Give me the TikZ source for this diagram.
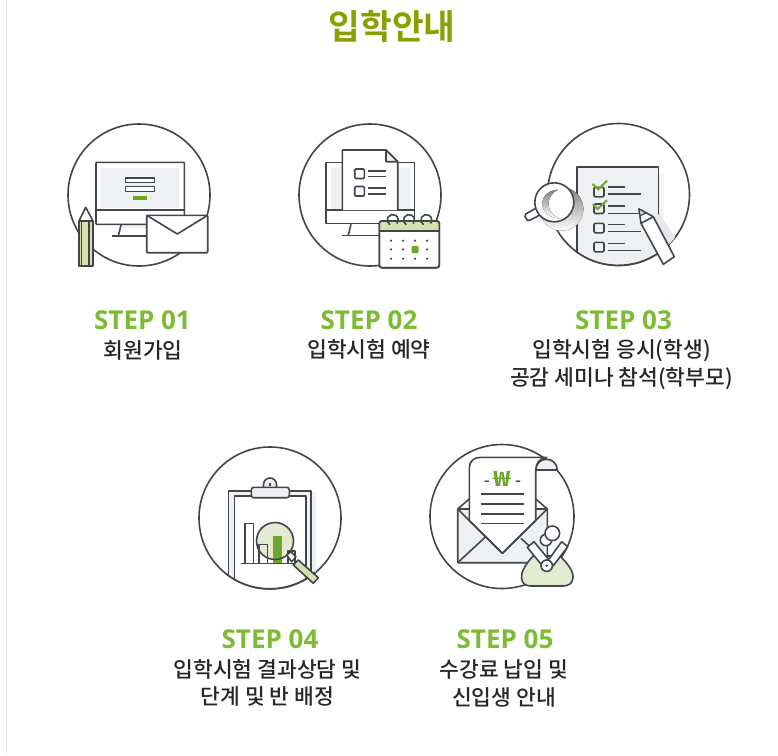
\documentclass[tikz,border=0pt]{standalone}
\usepackage{fontspec}
\setmainfont{Noto Sans CJK KR Medium}
\newfontfamily\titlefont{Noto Sans CJK KR Bold}
\newfontfamily\stepfont{Open Sans}[BoldFont={Open Sans Bold}]
\definecolor{ink}{HTML}{41464D}
\definecolor{leaf}{HTML}{6FA52A}
\definecolor{steptext}{HTML}{7CBB34}
\definecolor{headtext}{HTML}{8A9F00}
\definecolor{pale}{HTML}{E2EAD0}
\definecolor{stripe}{HTML}{D3E1AE}
\definecolor{mist}{HTML}{EFF0F2}
\definecolor{shade}{HTML}{D5D6D9}
\tikzset{
	ring/.style={circle,draw=ink,line width=1.6,minimum size=142,inner sep=0},
	ink line/.style={draw=ink,line width=1.6,line join=round},
	thin ink/.style={draw=ink,line width=1.2},
	head/.style={font=\titlefont\fontsize{34.5}{34.5}\selectfont,text=headtext},
	steplabel/.style={font=\stepfont\bfseries\fontsize{26}{26}\selectfont,text=steptext},
	desc/.style={font=\fontsize{21.5}{27.5}\selectfont,text=black!85,align=center}
}
\begin{document}
\begin{tikzpicture}[x=1pt,y=-1pt]
\useasboundingbox (0,0) rectangle (778,755);
\draw[black!8,line width=1] (6,0) -- (6,755);
\node[head] (title) at (392,26) {입학안내};

\node[ring] (ringone) at (139,195) {};
\fill[white] (96,162) rectangle (184,224);
\fill[mist] (101,167.5) rectangle (179,207.7);
\fill[mist] (122,225) rectangle (147,228);
\draw[ink line,rounded corners=0.8] (96,162.3) rectangle (184.3,224.3);
\draw[ink line] (96,210) -- (184.3,210);
\draw[ink line] (121,225) -- (118.3,236);
\draw[ink line] (112,236) -- (147,236);
\draw[ink line,fill=white] (125.3,177.7) rectangle (154.3,182.3);
\draw[ink line,fill=white] (125.3,186.5) rectangle (154.3,191.5);
\fill[leaf] (133.3,196.3) rectangle (146.7,200);
\draw[ink line,fill=white,rounded corners=0.8] (146.7,215.3) rectangle (207.7,252.7);
\draw[ink line] (146.7,215.3) -- (177.3,234) -- (207.7,215.3);
\draw[ink line,fill=white] (79,266) -- (79,221) -- (85.7,207.3) -- (93,221) -- (93,266) -- cycle;
\fill[stripe] (79.7,222) rectangle (92.3,265.3);
\draw[ink line] (79,221) -- (93,221);
\draw[thin ink] (89,221) -- (89,266);
\draw[thin ink] (81.5,221) -- (81.5,266);

\node[ring] (ringtwo) at (370,195) {};
\draw[ink line,fill=white] (326,162.3) rectangle (414.3,223.3);
\fill[mist] (331,167.3) rectangle (342.3,209) (397.7,167.3) rectangle (410,209);
\draw[ink line] (326,210) -- (414.3,210);
\draw[ink line] (351,224.3) -- (348.3,235.3);
\draw[ink line] (342.3,235.3) -- (380,235.3);
\draw[ink line,fill=white] (342.3,210) -- (342.3,150) -- (386,150) -- (397.7,161.7) -- (397.7,210);
\draw[ink line,fill=mist] (386,150) -- (386,161.7) -- (397.7,161.7) -- cycle;
\foreach \rowy in {169,186.5} {
	\draw[ink line,fill=white,rounded corners=1] (354.7,\rowy) rectangle (364.3,\rowy+9.5);
	\draw[ink line] (368.3,\rowy+1.7) -- (386,\rowy+1.7) (368.3,\rowy+7.5) -- (386,\rowy+7.5);
}
\draw[ink line,fill=white,rounded corners=2.5] (379.3,221) rectangle (439.3,267.7);
\fill[stripe,rounded corners=2] (380,221.7) rectangle (438.6,230.7);
\draw[ink line,rounded corners=2.5] (379.3,221) rectangle (439.3,267.7);
\draw[ink line] (379.3,230.7) -- (439.3,230.7);
\foreach \ringx in {392.7,409,426.3} {
	\draw[ink line] (\ringx-2.75,224.8) arc[start angle=120,end angle=400,radius=5.5];
}
\foreach \dotx in {391,403,415,427} {
	\foreach \doty in {240.7,249.3,258.7} {
		\fill[ink] (\dotx,\doty) circle[radius=1.2];
	}
}
\fill[leaf,rounded corners=0.8] (411.5,246) rectangle (418.5,253);

\node[ring] (ringthree) at (618.5,194.5) {};
\begin{scope}
	\clip (618.5,194.5) circle[radius=71];
	\fill[mist!70!white] (658,173) rectangle (664,270);
	\fill[mist] (576.7,167) rectangle (658.3,270);
	\draw[ink line] (576.7,270) -- (576.7,167) -- (658.3,167) -- (658.3,270);
	\fill[shade!60!white] (653.3,216.7) -- (660,214) -- (690,262) -- (674,258) -- cycle;
\end{scope}
\draw[ink line] (618.5,194.5) ++(-42,57.3) arc[start angle=126,end angle=48,radius=71];
\foreach \rowy/\topy in {187.3/186.7,204/206,223.3/224.3,242.3/243.3} {
	\draw[ink line,rounded corners=1.2] (594,\rowy) rectangle (604,\rowy+9.5);
	\draw[ink line] (608.3,\topy) -- (625,\topy) (608.3,\topy+7.3) -- (641,\topy+7.3);
}
\draw[leaf,line width=2] (592.7,184) -- (598.3,189.3) -- (607,180.7);
\draw[leaf,line width=2] (592.7,204.3) -- (597.7,209) -- (607,200);
\fill[shade] (561.7,209) circle[radius=21.7];
\draw[ink line,fill=white] (535,208.7) -- (525.7,214) -- (525,216.7) -- (527.7,220.7) -- (530.3,220) -- (539.3,215.3);
\draw[ink line,fill=white] (554.3,202.3) circle[radius=19.5];
\fill[shade] (558,189.5) .. controls (536,192) and (537,217) .. (560,218.5) .. controls (546,214) and (544,197) .. (558,189.5);
\draw[ink line,fill=white] (639,209) -- (653.3,216.7) -- (674.3,256.7) -- (663.3,264.3) -- (641,223.3) -- cycle;
\draw[thin ink,fill=shade] (639,209) -- (646,212.7) -- (640,216) -- cycle;
\draw[ink line] (641,223.3) -- (653.3,216.7);

\node[ring] (ringfour) at (270,518) {};
\begin{scope}
	\clip (270,518) circle[radius=71];
	\fill[mist] (311,492) rectangle (316,590);
	\fill[mist] (228.3,490.7) rectangle (311,590);
	\fill[white] (234.3,495.7) rectangle (305.7,590);
	\draw[ink line] (228.3,590) -- (228.3,490.7) -- (311,490.7) -- (311,590);
	\draw[ink line] (234.3,590) -- (234.3,495.7) -- (305.7,495.7) -- (305.7,590);
\end{scope}
\draw[ink line] (270,518) ++(-44,55.7) arc[start angle=128,end angle=50,radius=71];
\draw[ink line,fill=mist] (263.5,488) -- (263.5,484.5) arc[start angle=180,end angle=360,radius=6.5] -- (276.5,488) -- cycle;
\draw[ink line,fill=mist,rounded corners=2.5] (251.3,487.3) rectangle (289.3,497.7);
\fill[ink] (269.3,482.7) rectangle (270.7,486);
\fill[pale] (275,541) circle[radius=18.5];
\draw[ink line] (245,563.3) -- (245,523.3) -- (253.3,523.3) -- (253.3,563.3);
\draw[ink line] (259,563.3) -- (259,544.3) -- (267.3,544.3) -- (267.3,563.3);
\fill[leaf] (273.3,536) rectangle (281.7,563.3);
\draw[ink line] (287.7,563.3) -- (287.7,550.7) -- (295,550.7) -- (295,563.3);
\draw[ink line] (240.7,563.3) -- (295,563.3);
\draw[ink line] (275,541) circle[radius=18.5];
\draw[ink line,fill=stripe] (298.3,560) -- (318.3,577.7) -- (313.3,583.3) -- (293.3,565) -- cycle;
\draw[ink line,fill=white] (286.7,555) -- (291,551.7) -- (296,556.7) -- (291.7,561.7) -- cycle;

\node[ring,minimum size=144] (ringfive) at (502,516.5) {};
\draw[ink line,fill=white] (457.7,509) -- (470,498.3) -- (535,498.3) -- (547.3,509) -- cycle;
\draw[ink line,fill=mist,rounded corners=0.8] (457.7,509) rectangle (547.3,562.7);
\draw[ink line,fill=mist] (535.7,470) arc[start angle=180,end angle=360,radius=10.8] -- cycle;
\draw[ink line,fill=white] (469.3,520.7) -- (469.3,468) .. controls (469.3,461) and (474,457.3) .. (481,457.3) -- (546.7,457.3) .. controls (540,458) and (535.7,463) .. (535.7,470) -- (535.7,520.7) -- (502.3,553.3) -- cycle;
\draw[ink line] (457.7,509) -- (502.3,553.3) -- (547.3,509);
\draw[ink line] (457.7,562.7) -- (485.7,536.7);
\draw[ink line] (547.3,562.7) -- (521,538.3);
\node[font=\fontsize{17}{17}\selectfont,text=ink] (wontag) at (502.5,478.5) {-\ {\color{leaf}\titlefont\fontsize{21}{21}\selectfont\scalebox{1.4}[1]{₩}}\ -};
\foreach \rowy in {494,504,514,523.3} {
	\draw[ink line] (480.7,\rowy) -- (524.3,\rowy);
}
\draw[ink line,fill=white] (546,540) circle[radius=5.7];
\draw[ink line,fill=white] (552.3,533.3) circle[radius=7.3];
\draw[ink line,fill=pale] (533,556) .. controls (525,565) and (521,572) .. (521.5,578) .. controls (522,584) and (526,586) .. (531,586) -- (563,586) .. controls (569,586) and (573,583) .. (573,577) .. controls (573,570) and (567,563) .. (560,556) -- cycle;
\draw[ink line,fill=white] (527.3,547.3) -- (534,541.7) -- (548.3,559) -- (541.7,565) -- cycle;
\draw[ink line,fill=white] (548.3,560) -- (561.7,541.7) -- (567.7,546.7) -- (553.3,565.7) -- cycle;
\draw[ink line,fill=white] (546.7,565.7) circle[radius=5.7];
\fill[ink] (546.7,565.7) circle[radius=1.3];

\node[steplabel] (stepone) at (142.5,320) {STEP 01};
\node[desc] (descone) at (143,350) {회원가입};
\node[steplabel] (steptwo) at (369,320) {STEP 02};
\node[desc] (desctwo) at (369,349.5) {입학시험 예약};
\node[steplabel] (stepthree) at (623.5,320) {STEP 03};
\node[desc] (descthree) at (621.5,364.5) {입학시험 응시(학생)\\공감 세미나 참석(학부모)};
\node[steplabel] (stepfour) at (270,639) {STEP 04};
\node[desc] (descfour) at (267.5,683) {입학시험 결과상담 및\\단계 및 반 배정};
\node[steplabel] (stepfive) at (505,639) {STEP 05};
\node[desc] (descfive) at (504,683.5) {수강료 납입 및\\신입생 안내};
\end{tikzpicture}
\end{document}
